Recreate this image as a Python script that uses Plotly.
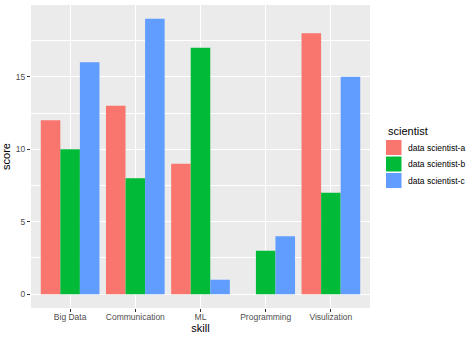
import plotly.graph_objects as go

skills = ["Big Data", "Communication", "ML", "Programming", "Visulization"]
scientists = ["data scientist-a", "data scientist-b", "data scientist-c"]
score_a = [12, 13, 9, 0, 18]
score_b = [10, 8, 17, 3, 7]
score_c = [16, 19, 1, 4, 15]
colors = ["#F8766D", "#00BA38", "#619CFF"]

W, H = 474, 338
L, R, T, B = 31, 104, 5, 30
pw, ph = W - L - R, H - T - B

def px(x):
    return (x - L) / pw

def py(y):
    return (H - B - y) / ph

fig = go.Figure()
for name, vals, col in zip(scientists, [score_a, score_b, score_c], colors):
    fig.add_trace(go.Bar(x=skills, y=vals, name=name, showlegend=False,
                         marker=dict(color=col, line=dict(width=0))))

shapes = []
annotations = [dict(text="scientist", x=px(386), y=py(130.5), xref="paper", yref="paper",
                    xanchor="left", yanchor="middle", showarrow=False,
                    font=dict(size=11, color="black"))]
key_tops = [140, 156.5, 173]
for name, col, top in zip(scientists, colors, key_tops):
    shapes.append(dict(type="rect", xref="paper", yref="paper",
                       x0=px(386), x1=px(401.5), y0=py(top), y1=py(top + 15),
                       fillcolor=col, line=dict(width=0), layer="above"))
    annotations.append(dict(text=name, x=px(406), y=py(top + 7.5), xref="paper", yref="paper",
                            xanchor="left", yanchor="middle", showarrow=False,
                            font=dict(size=8.5, color="black")))

fig.update_layout(
    width=W, height=H,
    margin=dict(l=L, r=R, t=T, b=B),
    paper_bgcolor="white", plot_bgcolor="#EBEBEB",
    barmode="group", bargap=0.1, bargroupgap=0,
    font=dict(family="Liberation Sans, Arial, sans-serif", size=9, color="#4D4D4D"),
    showlegend=False,
    shapes=shapes, annotations=annotations,
    xaxis=dict(
        title=dict(text="skill", font=dict(size=11, color="black"), standoff=0),
        range=[-0.6, 4.6], showgrid=True, gridcolor="white", gridwidth=1.1,
        ticks="outside", ticklen=3, tickcolor="#333333", tickfont=dict(size=8.5, color="#4D4D4D"),
        ticklabelstandoff=-2,
        zeroline=False, showline=False, automargin=False,
    ),
    yaxis=dict(
        title=dict(text="score", font=dict(size=11, color="black"), standoff=4),
        range=[-0.95, 19.95], tickvals=[0, 5, 10, 15], showgrid=True, gridcolor="white", gridwidth=1.1,
        minor=dict(tickvals=[2.5, 7.5, 12.5, 17.5], showgrid=True, gridcolor="white", gridwidth=0.5),
        ticks="outside", ticklen=3, tickcolor="#333333", tickfont=dict(size=8.5, color="#4D4D4D"),
        zeroline=False, showline=False, automargin=False,
    ),
)

fig.write_html("out.html")
